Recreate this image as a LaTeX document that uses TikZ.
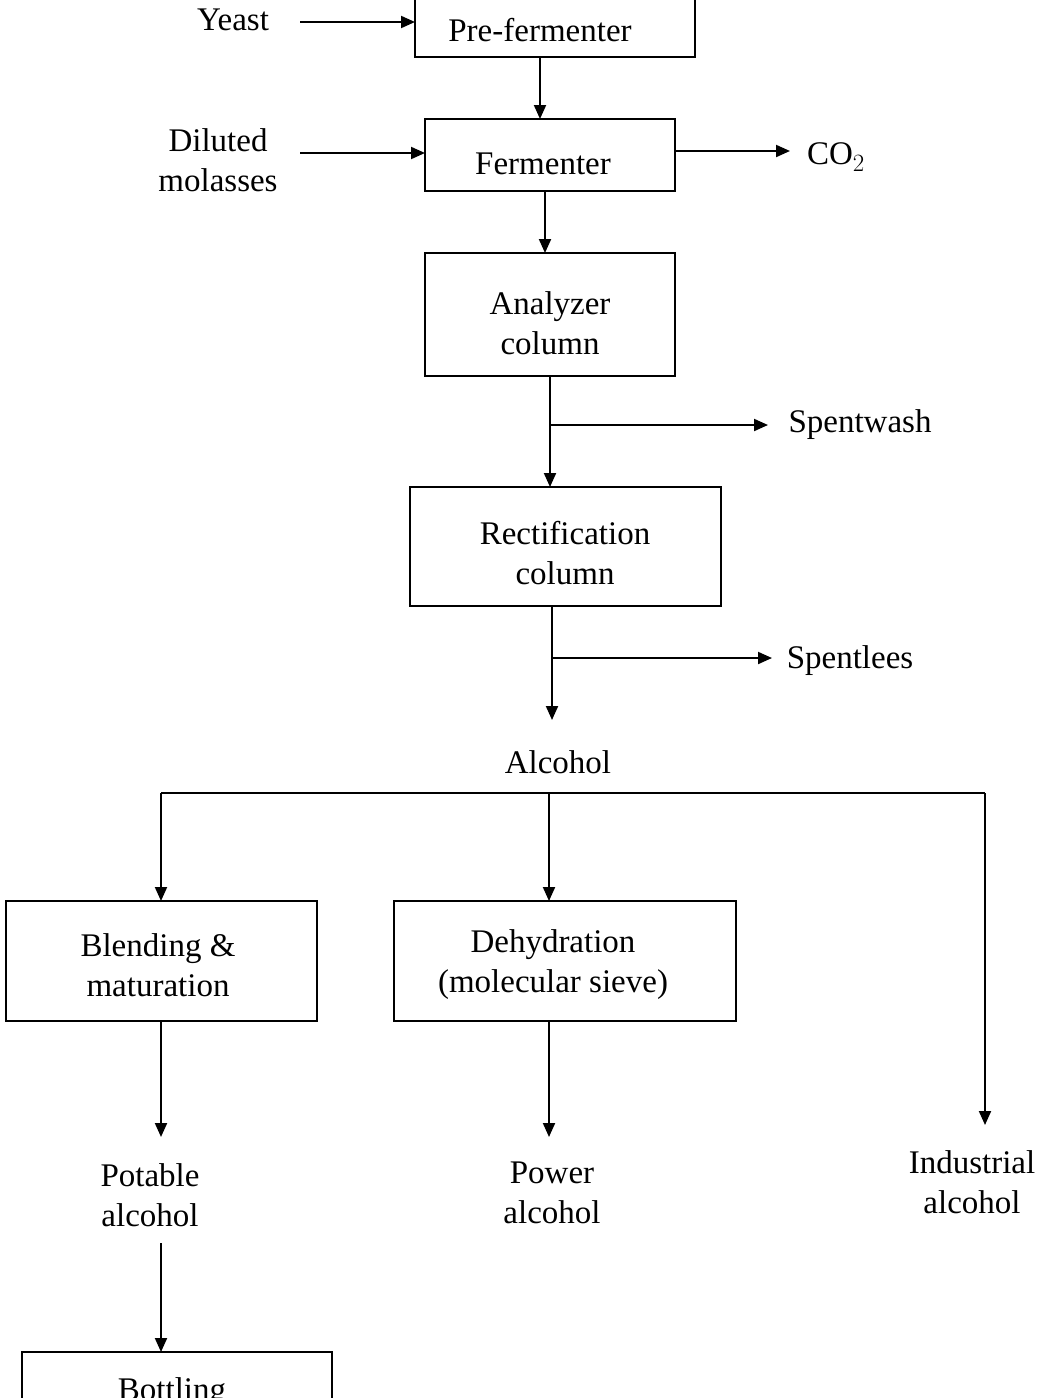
\documentclass[tikz,border=0pt]{standalone}
\usepackage{fontspec}
\setmainfont{Liberation Serif}
\usetikzlibrary{arrows.meta}
\begin{document}
\begin{tikzpicture}[x=1pt,y=-1pt,
  box/.style={draw,line width=2pt,inner sep=0pt},
  lbl/.style={font=\fontsize{33}{40}\selectfont,align=center,inner sep=0pt},
  arr/.style={line width=2pt,-{Triangle[length=14pt,width=12pt]}},
  ln/.style={line width=2pt}]
\useasboundingbox (0,0) rectangle (1046,1398);
\clip (0,0) rectangle (1046,1398);
% boxes
\node[box,minimum width=280pt,minimum height=87pt] (pre) at (555,13.5) {};
\node[lbl] at (540,30) {Pre-fermenter};
\node[box,minimum width=250pt,minimum height=72pt] (fer) at (550,155) {};
\node[lbl] at (543,164) {Fermenter};
\node[box,minimum width=250pt,minimum height=123pt] (ana) at (550,314.5) {};
\node[lbl] at (550,323) {Analyzer\\column};
\node[box,minimum width=311pt,minimum height=119pt] (rec) at (565.5,546.5) {};
\node[lbl] at (565,553) {Rectification\\column};
\node[box,minimum width=311pt,minimum height=120pt] (ble) at (161.5,961) {};
\node[lbl] at (158,965) {Blending \&\\maturation};
\node[box,minimum width=342pt,minimum height=120pt] (deh) at (565,961) {};
\node[lbl] at (553,965) {Dehydration\\(molecular sieve)};
\node[box,minimum width=310pt,minimum height=100pt] (bot) at (177,1402) {};
\node[lbl] at (172,1393) {Bottling};
% labels
\node[lbl] (yeast) at (233,20) {Yeast};
\node[lbl] (mol) at (218,160) {Diluted\\molasses};
\node[lbl] (co2) at (836,157) {CO$_2$};
\node[lbl] (sw) at (860,425) {Spentwash};
\node[lbl] (sl) at (850,661) {Spentlees};
\node[lbl] (alc) at (558,762) {Alcohol};
\node[lbl] (pot) at (150,1195) {Potable\\alcohol};
\node[lbl] (pow) at (552,1193) {Power\\alcohol};
\node[lbl] (ind) at (972,1182) {Industrial\\alcohol};
% coordinates
\coordinate (y1) at (300,22); \coordinate (y2) at (415,22);
\coordinate (m1) at (300,153); \coordinate (m2) at (425,153);
\coordinate (c1) at (675,151); \coordinate (c2) at (790,151);
\coordinate (s1) at (550,425); \coordinate (s2) at (768,425);
\coordinate (l1) at (552,658); \coordinate (l2) at (772,658);
\coordinate (r1) at (552,606); \coordinate (r2) at (552,720);
\coordinate (hL) at (161,793); \coordinate (hM) at (549,793); \coordinate (hR) at (985,793);
% connectors
\draw[arr] (y1) -- (y2);
\draw[arr] (m1) -- (m2);
\draw[arr] (c1) -- (c2);
\draw[arr] (540,57) -- (540,119);
\draw[arr] (545,191) -- (545,253);
\draw[arr] (550,376) -- (550,487);
\draw[arr] (s1) -- (s2);
\draw[arr] (r1) -- (r2);
\draw[arr] (l1) -- (l2);
\draw[ln] (hL) -- (hR);
\draw[arr] (hL) -- (161,901);
\draw[arr] (hM) -- (549,901);
\draw[arr] (hR) -- (985,1125);
\draw[arr] (161,1021) -- (161,1137);
\draw[arr] (549,1021) -- (549,1137);
\draw[arr] (161,1243) -- (161,1352);
\end{tikzpicture}
\end{document}
